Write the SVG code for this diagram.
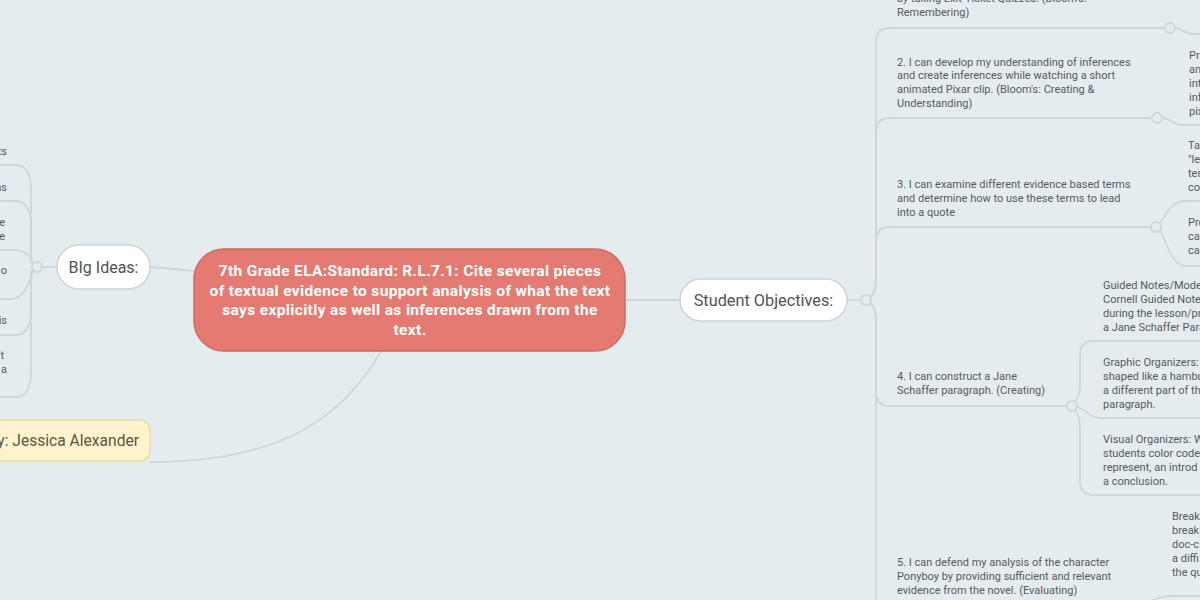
<svg xmlns="http://www.w3.org/2000/svg" width="1200" height="600" viewBox="0 0 1200 600">
<style>
.bg{fill:#e5ecef}
.ln{fill:none;stroke:#cfd6d9;stroke-width:1.8}
.jc{fill:#e5ecef;stroke:#cfd6d9;stroke-width:1.8}
.sm{font-family:Roboto,"Liberation Sans",sans-serif;font-size:11px;fill:#555a5d}
.md{font-family:Roboto,"Liberation Sans",sans-serif;font-size:16px;fill:#4e5356}
.wn{fill:#ffffff;stroke:#cdd4d7;stroke-width:1.5}
.ct{font-family:Roboto,"Liberation Sans",sans-serif;font-size:15.5px;font-weight:bold;letter-spacing:0.35px;fill:#ffffff;text-anchor:middle}
</style>
<rect class="bg" x="0" y="0" width="1200" height="600"/>
<g id="connectors">
<path class="ln" d="M150 267 L196 271"/>
<path class="ln" d="M625 300 H680"/>
<path class="ln" d="M382 350 C345 412 290 462 150 462"/>
<path class="ln" d="M42 267 H57"/>
<path class="ln" d="M-5 165 H16 C27 165 31 175 31 190 V256 Q31 264 33 264"/>
<path class="ln" d="M-5 201 H14 C26 201 31 210 31 224 V256 Q31 264 33 264"/>
<path class="ln" d="M-5 250 H12 C24 250 31 255 33 264"/>
<path class="ln" d="M-5 299 H12 C24 299 31 280 33 270"/>
<path class="ln" d="M-5 335 H14 C26 335 31 326 31 312 V278 Q31 270 33 270"/>
<path class="ln" d="M-5 397 H16 C27 397 31 387 31 372 V278 Q31 270 33 270"/>
<path class="ln" d="M847 300 H861"/>
<path class="ln" d="M870 297 Q876 292 876 280 V42 Q876 28 890 28 H1165"/>
<path class="ln" d="M870 297 Q876 292 876 280 V132 Q876 118 890 118 H1152"/>
<path class="ln" d="M870 297 Q876 292 876 280 V241 Q876 227 890 227 H1152"/>
<path class="ln" d="M870 303 Q876 308 876 320 V392 Q876 406 890 406 H1067"/>
<path class="ln" d="M870 303 Q876 308 876 320 V610"/>
<path class="ln" d="M1175 28 C1182 28 1185 34 1193 34 H1205"/>
<path class="ln" d="M1162 118 C1170 118 1173 125 1182 125 H1205"/>
<path class="ln" d="M1160 223 C1167 214 1170 201 1186 201 H1205"/>
<path class="ln" d="M1160 231 C1167 240 1170 266 1186 266 H1205"/>
<path class="ln" d="M1075 402 Q1080 395 1080 385 V355 Q1080 341 1094 341 H1205"/>
<path class="ln" d="M1077 407 C1085 409 1090 418 1100 418 H1205"/>
<path class="ln" d="M1075 410 Q1080 417 1080 427 V481 Q1080 495 1094 495 H1205"/>
<path class="ln" d="M1148 604 C1154 599 1160 596 1172 596 H1205"/>
<circle class="jc" cx="37" cy="267" r="5"/>
<circle class="jc" cx="866" cy="300" r="5"/>
<circle class="jc" cx="1170" cy="28" r="5"/>
<circle class="jc" cx="1157" cy="118" r="5"/>
<circle class="jc" cx="1156" cy="227" r="5"/>
<circle class="jc" cx="1072" cy="406" r="5"/>
</g>
<g id="central">
<rect x="194" y="249" width="431" height="102" rx="30" fill="#e57a72" stroke="#cf6b63" stroke-width="1.5"/>
<text class="ct" x="410" y="276">7th Grade ELA:Standard: R.L.7.1: Cite several pieces</text>
<text class="ct" x="410" y="295.5">of textual evidence to support analysis of what the text</text>
<text class="ct" x="410" y="315">says explicitly as well as inferences drawn from the</text>
<text class="ct" x="410" y="334.5">text.</text>
</g>
<g id="big-ideas">
<rect class="wn" x="57" y="245" width="93" height="44" rx="22"/>
<text class="md" x="103.5" y="272.5" text-anchor="middle">BIg Ideas:</text>
</g>
<g id="big-ideas-items" class="sm" text-anchor="end">
<text x="7" y="155">ts</text>
<text x="7" y="191">ns</text>
<text x="5" y="226">e</text>
<text x="5" y="240">e</text>
<text x="7" y="274">o</text>
<text x="7" y="324">is</text>
<text x="4" y="359">t</text>
<text x="7" y="373">a</text>
</g>
<g id="author">
<rect x="-20" y="420" width="170" height="41" rx="10" fill="#fef3cc" stroke="#e8dba4" stroke-width="1.5"/>
<text class="md" x="139" y="446" text-anchor="end" style="fill:#5a5648;font-size:15.6px">y: Jessica Alexander</text>
</g>
<g id="student-objectives">
<rect class="wn" x="680" y="279" width="167" height="42" rx="21"/>
<text class="md" x="763.5" y="305.5" text-anchor="middle" style="font-size:16.3px">Student Objectives:</text>
</g>
<g id="objective-1" class="sm">
<text x="897" y="2">by taking Exit-Ticket Quizzes. (Bloom's:</text>
<text x="897" y="16">Remembering)</text>
</g>
<g id="objective-2" class="sm">
<text x="897" y="65.5">2. I can develop my understanding of inferences</text>
<text x="897" y="79.3">and create inferences while watching a short</text>
<text x="897" y="93">animated Pixar clip. (Bloom's: Creating &amp;</text>
<text x="897" y="106.8">Understanding)</text>
</g>
<g id="objective-2-child" class="sm">
<text x="1189" y="59">Pra</text>
<text x="1189" y="73">an</text>
<text x="1189" y="87">int</text>
<text x="1189" y="101">inf</text>
<text x="1189" y="115">pix</text>
</g>
<g id="objective-3" class="sm">
<text x="897" y="188">3. I can examine different evidence based terms</text>
<text x="897" y="202">and determine how to use these terms to lead</text>
<text x="897" y="216">into a quote</text>
</g>
<g id="objective-3-child-1" class="sm">
<text x="1188" y="149">Tap</text>
<text x="1188" y="163">"le</text>
<text x="1188" y="177">ter</text>
<text x="1188" y="191">co</text>
</g>
<g id="objective-3-child-2" class="sm">
<text x="1188" y="226">Pre</text>
<text x="1188" y="240">ca</text>
<text x="1188" y="254">ca</text>
</g>
<g id="objective-4" class="sm">
<text x="897" y="380">4. I can construct a Jane</text>
<text x="897" y="394">Schaffer paragraph. (Creating)</text>
</g>
<g id="objective-4-child-1" class="sm">
<text x="1103" y="289">Guided Notes/Mode</text>
<text x="1103" y="303">Cornell Guided Note</text>
<text x="1103" y="317">during the lesson/pr</text>
<text x="1103" y="331">a Jane Schaffer Para</text>
</g>
<g id="objective-4-child-2" class="sm">
<text x="1103" y="366">Graphic Organizers:</text>
<text x="1103" y="380">shaped like a hambu</text>
<text x="1103" y="394">a different part of th</text>
<text x="1103" y="408">paragraph.</text>
</g>
<g id="objective-4-child-3" class="sm">
<text x="1103" y="443">Visual Organizers: W</text>
<text x="1103" y="457">students color code</text>
<text x="1103" y="471">represent, an introd</text>
<text x="1103" y="485">a conclusion.</text>
</g>
<g id="objective-5" class="sm">
<text x="897" y="566">5. I can defend my analysis of the character</text>
<text x="897" y="580">Ponyboy by providing sufficient and relevant</text>
<text x="897" y="594">evidence from the novel. (Evaluating)</text>
</g>
<g id="objective-5-child" class="sm">
<text x="1172" y="520">Break</text>
<text x="1172" y="534">break</text>
<text x="1172" y="548">doc-c</text>
<text x="1172" y="562">a diffi</text>
<text x="1172" y="576">the qu</text>
</g>
</svg>
